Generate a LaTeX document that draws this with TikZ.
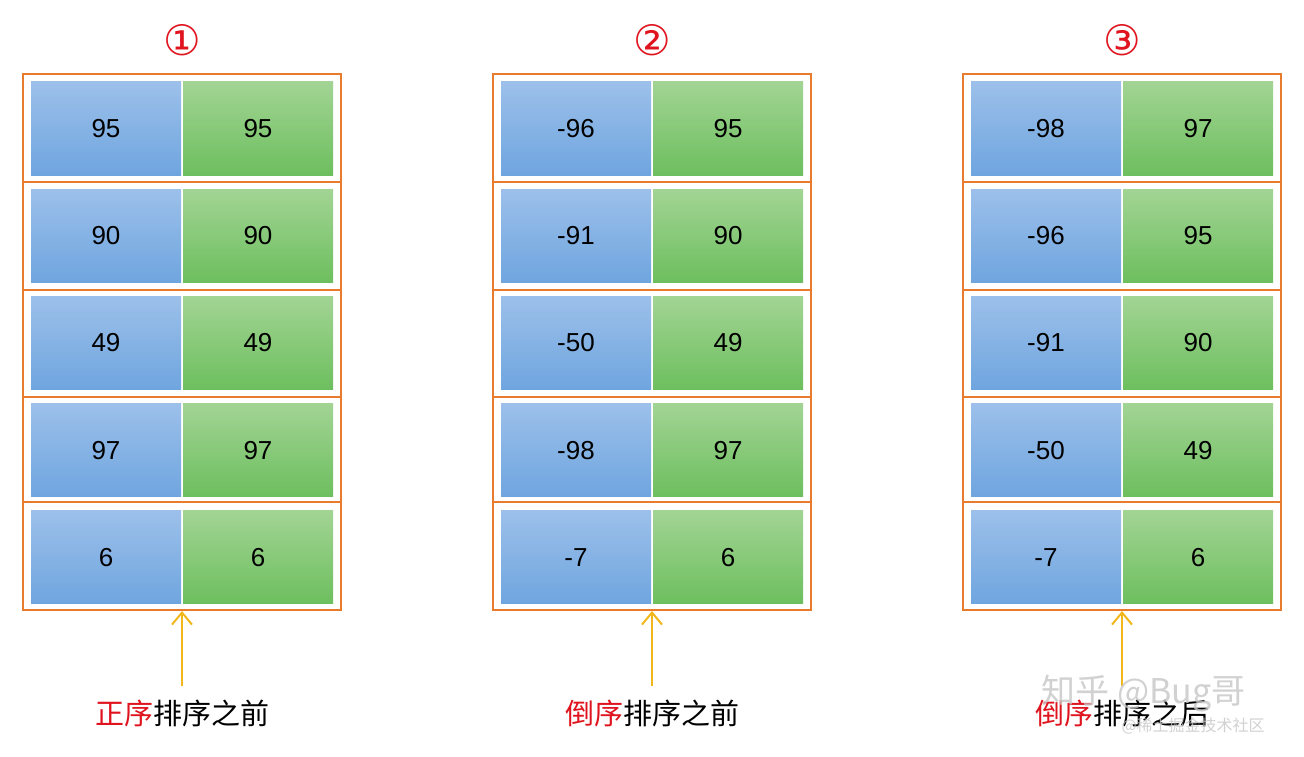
\documentclass[tikz,border=0pt]{standalone}
\usepackage{fontspec}
\setmainfont{Liberation Sans}
\newfontfamily\cjk{Noto Sans CJK SC}
\newfontfamily\djfont{DejaVu Sans}
\definecolor{orng}{HTML}{E87C2C}
\definecolor{bltop}{HTML}{9CC0EA}
\definecolor{blbot}{HTML}{6FA5DF}
\definecolor{grtop}{HTML}{A2D494}
\definecolor{grbot}{HTML}{6DBF5E}
\definecolor{redt}{HTML}{E0141E}
\definecolor{yel}{HTML}{F2B81B}
\usetikzlibrary{arrows.meta}
\tikzset{
  bcell/.style={top color=bltop,bottom color=blbot,draw=none,minimum width=150pt,minimum height=93pt,inner sep=0pt,font=\fontsize{26}{26}\selectfont},
  gcell/.style={top color=grtop,bottom color=grbot,draw=none,minimum width=150pt,minimum height=93pt,inner sep=0pt,font=\fontsize{26}{26}\selectfont},
  frame/.style={draw=orng,line width=1.5pt},
  ttl/.style={text=redt,font=\djfont\fontsize{42}{42}\selectfont},
  lbl/.style={font=\cjk\fontsize{29}{29}\selectfont},
  arr/.style={draw=yel,line width=2pt,-{Straight Barb[length=12pt,width=20pt]}},
  wm/.style={text=gray!45,opacity=0.8}
}
\begin{document}
\begin{tikzpicture}[x=1pt,y=-1pt]
\useasboundingbox (0,0) rectangle (1304,757);
\fill[white] (0,0) rectangle (1304,757);
\foreach \c/\ti/\red/\blk/\L/\R in {
  0/①/正序/排序之前/{95,90,49,97,6}/{95,90,49,97,6},
  1/②/倒序/排序之前/{-96,-91,-50,-98,-7}/{95,90,49,97,6},
  2/③/倒序/排序之后/{-98,-96,-91,-50,-7}/{97,95,90,49,6}}{
  \begin{scope}[xshift=\c*470pt]
    \node[ttl] (t\c) at (182,40) {\ti};
    \foreach \a [count=\i from 0] in \L {
      \node[bcell] (b\c\i) at (106,128.5+107.2*\i) {\a};
    }
    \foreach \a [count=\i from 0] in \R {
      \node[gcell] (g\c\i) at (258,128.5+107.2*\i) {\a};
    }
    \draw[frame] (23,74) rectangle (341,610);
    \foreach \yy in {182,290,397,502} \draw[frame] (23,\yy) -- (341,\yy);
    \node[lbl] (l\c) at (182,713) {\textcolor{redt}{\red}\blk};
    \coordinate (a\c) at (182,686);
    \draw[arr] (a\c) -- (182,611);
  \end{scope}
}
\node[wm,font=\cjk\fontsize{34}{34}\selectfont,anchor=west] (w1) at (1038,693) {知乎 @Bug哥};
\node[wm,font=\cjk\fontsize{16}{16}\selectfont,anchor=west] (w2) at (1118,726) {@稀土掘金技术社区};
\end{tikzpicture}
\end{document}
